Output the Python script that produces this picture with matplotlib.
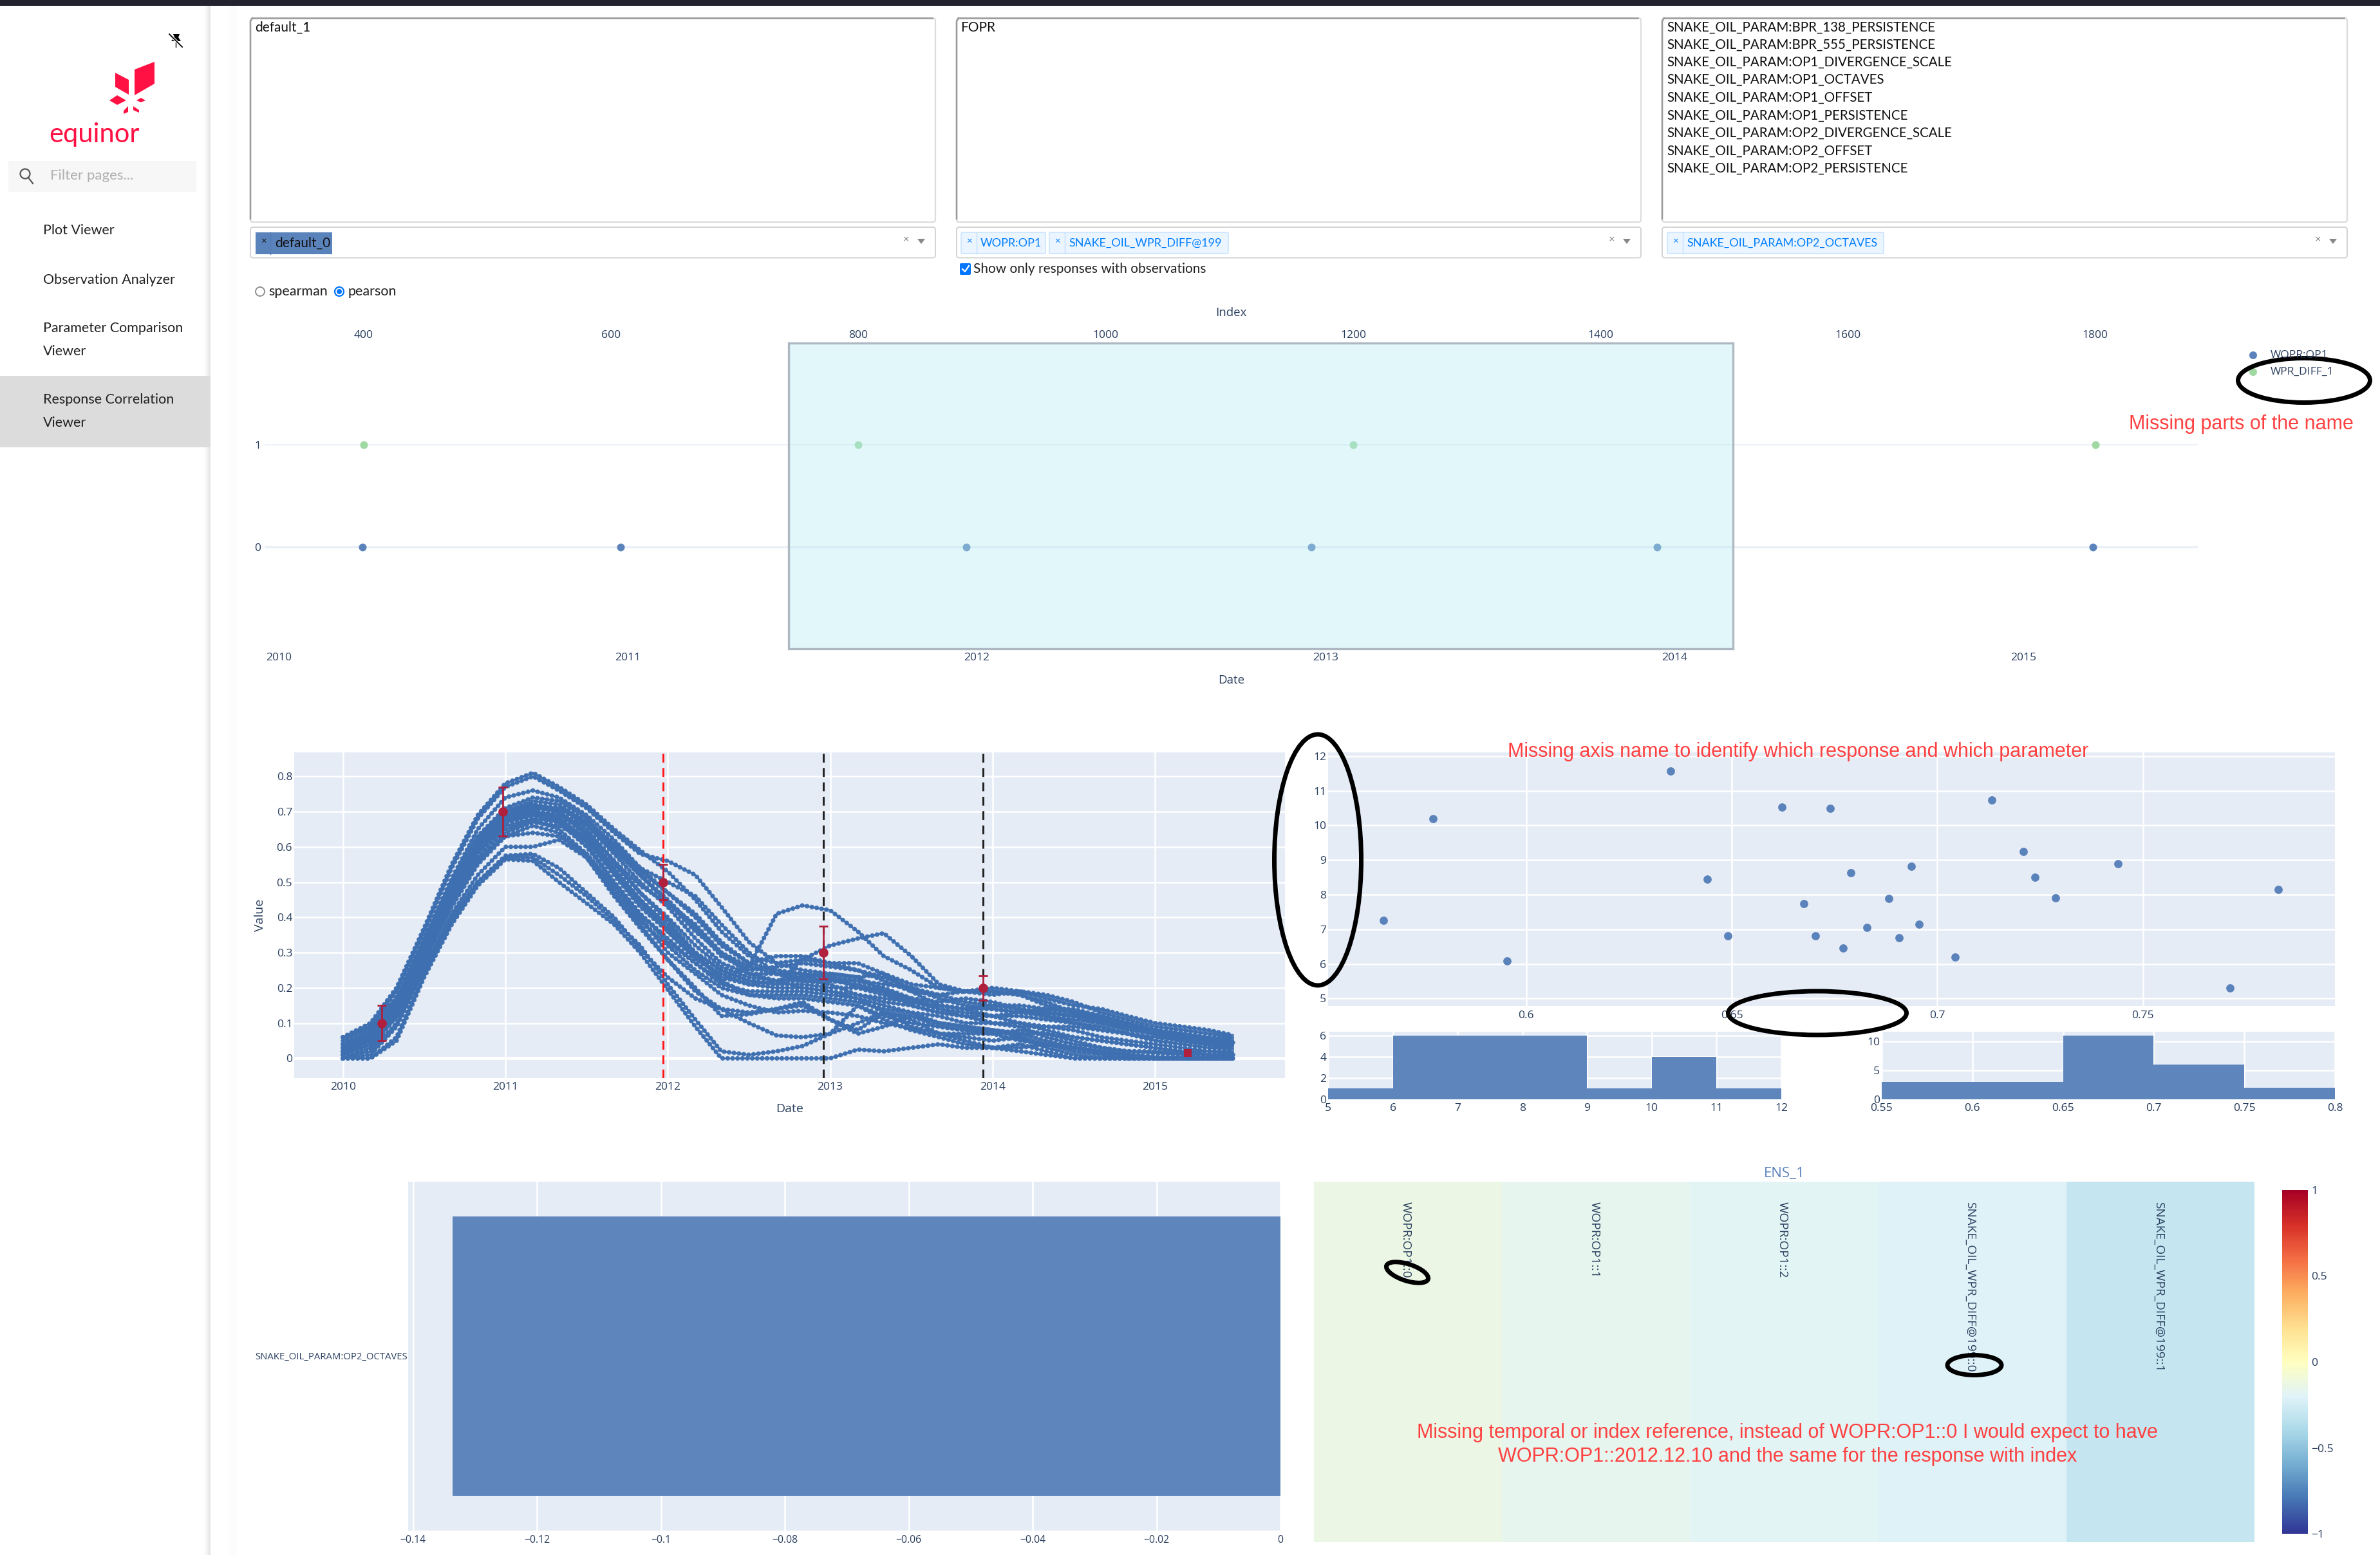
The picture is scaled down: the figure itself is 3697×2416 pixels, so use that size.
import numpy as np
import matplotlib
matplotlib.use('Agg')
import matplotlib.pyplot as plt
from matplotlib.colors import LinearSegmentedColormap
from matplotlib.patches import Rectangle, Ellipse, Polygon, Circle, FancyBboxPatch

W, H = 3698, 2416
plt.rcParams['font.family'] = ['Open Sans', 'DejaVu Sans']

# menu and selector texts
menu_items = ['Plot Viewer', 'Observation Analyzer', 'Parameter Comparison\nViewer', 'Response Correlation\nViewer']
menu_y = [358, 435, 528, 639]
param_list = ['SNAKE_OIL_PARAM:BPR_138_PERSISTENCE', 'SNAKE_OIL_PARAM:BPR_555_PERSISTENCE',
              'SNAKE_OIL_PARAM:OP1_DIVERGENCE_SCALE', 'SNAKE_OIL_PARAM:OP1_OCTAVES',
              'SNAKE_OIL_PARAM:OP1_OFFSET', 'SNAKE_OIL_PARAM:OP1_PERSISTENCE',
              'SNAKE_OIL_PARAM:OP2_DIVERGENCE_SCALE', 'SNAKE_OIL_PARAM:OP2_OFFSET',
              'SNAKE_OIL_PARAM:OP2_PERSISTENCE']

# observation overview (top chart)
index_ticks = [400, 600, 800, 1000, 1200, 1400, 1600, 1800]
year_ticks = [2010, 2011, 2012, 2013, 2014, 2015]
wopr_dates = [2010.24, 2010.98, 2011.97, 2012.96, 2013.95, 2015.2]
wpr_index = [400, 800, 1200, 1800]

# time series
dates = [2010.0, 2010.17, 2010.33, 2010.5, 2010.67, 2010.83, 2011.0, 2011.17, 2011.33, 2011.5, 2011.67, 2011.83,
         2012.0, 2012.17, 2012.33, 2012.5, 2012.67, 2012.83, 2013.0, 2013.17, 2013.33, 2013.5, 2013.67, 2013.83,
         2014.0, 2014.17, 2014.33, 2014.5, 2014.67, 2014.83, 2015.0, 2015.17, 2015.33, 2015.48]
real_01 = [.06,.10,.20,.37,.55,.69,.78,.81,.77,.72,.65,.59,.53,.45,.36,.29,.27,.28,.27,.25,.22,.19,.18,.19,.20,.19,.17,.15,.14,.12,.10,.09,.08,.066]
real_02 = [.05,.09,.19,.36,.54,.68,.77,.80,.76,.71,.64,.58,.56,.52,.43,.33,.27,.25,.24,.23,.24,.21,.20,.19,.18,.19,.18,.16,.13,.11,.09,.08,.07,.06]
real_03 = [.04,.08,.17,.34,.51,.65,.74,.76,.74,.69,.62,.54,.50,.46,.38,.30,.24,.22,.22,.21,.19,.17,.16,.17,.16,.14,.13,.12,.11,.09,.08,.07,.06,.055]
real_04 = [.03,.07,.16,.33,.50,.63,.71,.74,.73,.68,.60,.53,.47,.40,.32,.27,.29,.29,.27,.27,.24,.19,.15,.14,.15,.14,.12,.11,.10,.09,.07,.06,.05,.045]
real_05 = [.03,.07,.16,.32,.49,.62,.70,.73,.72,.67,.59,.52,.45,.37,.29,.25,.26,.27,.26,.25,.23,.20,.17,.15,.14,.13,.14,.13,.11,.09,.07,.06,.05,.045]
real_06 = [.02,.06,.15,.31,.48,.61,.69,.72,.71,.66,.58,.50,.43,.34,.27,.24,.24,.24,.23,.22,.20,.17,.14,.13,.12,.12,.11,.10,.09,.07,.06,.05,.04,.037]
real_07 = [.02,.06,.15,.31,.47,.60,.68,.71,.70,.65,.56,.47,.40,.32,.26,.23,.22,.23,.24,.23,.19,.15,.13,.12,.12,.13,.12,.10,.08,.07,.05,.04,.03,.03]
real_08 = [.02,.05,.14,.30,.47,.60,.68,.70,.69,.64,.54,.45,.38,.30,.25,.22,.21,.21,.20,.20,.18,.16,.15,.14,.12,.10,.09,.09,.08,.07,.05,.04,.03,.026]
real_09 = [.01,.05,.14,.30,.46,.59,.67,.69,.68,.62,.52,.43,.36,.29,.23,.21,.22,.22,.21,.18,.16,.15,.13,.12,.10,.09,.09,.08,.06,.05,.04,.03,.02,.02]
real_10 = [.01,.04,.13,.29,.45,.58,.66,.68,.67,.61,.50,.41,.34,.27,.21,.19,.19,.19,.18,.17,.15,.13,.12,.10,.10,.10,.08,.06,.05,.04,.03,.02,.02,.015]
real_11 = [.01,.04,.13,.29,.45,.57,.65,.675,.65,.58,.48,.39,.32,.25,.20,.18,.18,.18,.17,.16,.14,.13,.10,.09,.08,.07,.07,.06,.05,.04,.03,.02,.01,.01]
real_12 = [.02,.05,.14,.30,.47,.59,.67,.69,.67,.60,.50,.41,.33,.27,.22,.26,.41,.434,.42,.36,.29,.25,.20,.19,.19,.18,.16,.13,.11,.09,.07,.06,.05,.045]
real_13 = [.02,.06,.15,.31,.48,.61,.68,.72,.70,.63,.53,.44,.37,.30,.25,.22,.21,.28,.32,.34,.355,.29,.21,.19,.19,.18,.15,.13,.12,.10,.08,.07,.055,.05]
real_14 = [.03,.07,.16,.32,.49,.61,.68,.70,.69,.66,.60,.52,.44,.36,.30,.26,.24,.23,.22,.22,.21,.20,.18,.16,.15,.15,.14,.14,.12,.10,.08,.06,.05,.04]
real_15 = [.01,.04,.12,.28,.44,.56,.64,.67,.66,.62,.55,.47,.39,.30,.22,.18,.17,.17,.16,.15,.12,.10,.09,.08,.07,.05,.04,.03,.02,.01,.005,0,0,0]
real_16 = [0,.03,.12,.28,.43,.55,.63,.66,.64,.57,.46,.37,.28,.19,.14,.13,.14,.15,.11,.07,.09,.12,.10,.09,.08,.07,.05,.03,.015,.01,0,0,0,0]
real_17 = [.04,.08,.17,.33,.49,.62,.70,.72,.70,.64,.56,.49,.44,.38,.30,.24,.22,.20,.19,.18,.17,.16,.14,.12,.10,.09,.06,.04,.03,.02,.02,.015,.01,.01]
real_18 = [.06,.09,.17,.33,.50,.62,.69,.71,.71,.67,.61,.54,.47,.41,.33,.27,.25,.24,.23,.20,.19,.16,.15,.14,.14,.13,.13,.12,.10,.08,.07,.05,.04,.035]
real_19 = [.01,.05,.14,.30,.46,.59,.67,.70,.68,.62,.53,.45,.36,.28,.24,.21,.20,.20,.19,.17,.13,.11,.07,.05,.03,.04,.02,0,0,0,0,0,0,0]
real_20 = [0,.03,.12,.28,.44,.56,.63,.64,.63,.58,.49,.40,.30,.24,.18,.15,.13,.135,.13,.12,.10,.085,.07,.07,.07,.08,.07,.05,.03,.02,.015,.01,0,0]
real_21 = [0,.02,.10,.26,.41,.52,.60,.60,.62,.57,.47,.38,.28,.20,.12,.125,.14,.16,.11,.08,.13,.12,.09,.08,.08,.06,.03,.01,0,0,0,0,0,0]
real_22 = [0,.01,.09,.25,.40,.50,.575,.58,.54,.47,.40,.31,.23,.17,.14,.10,.065,.06,.07,.10,.13,.09,.07,.06,.05,.06,.04,.03,.02,.01,0,0,0,0]
real_23 = [0,0,.05,.23,.38,.49,.565,.56,.50,.44,.38,.30,.195,.09,0,0,0,0,0,.025,.02,.03,.04,.03,.03,.03,.04,.02,.01,0,0,0,0,0]
real_24 = [0,0,.06,.24,.39,.50,.57,.57,.52,.46,.39,.32,.21,.11,.02,.01,.02,.035,.07,.15,.11,.08,.06,.04,.03,.02,.01,0,0,0,0,0,0,0]
realizations = [real_01, real_02, real_03, real_04, real_05, real_06, real_07, real_08, real_09, real_10, real_11, real_12,
                real_13, real_14, real_15, real_16, real_17, real_18, real_19, real_20, real_21, real_22, real_23, real_24]
obs_dates = [2010.24, 2010.985, 2011.97, 2012.96, 2013.94]
obs_values = [.1, .7, .5, .3, .2]
obs_errors = [.05, .07, .05, .075, .035]
last_obs_date, last_obs_value = 2015.2, .015
red_line = 2011.97
black_lines = [2012.96, 2013.94]

# scatter and histograms
resp_x = [.5652,.5774,.5953,.6351,.6441,.649,.6622,.6675,.6704,.6739,.677,.6789,.6829,.6882,.6907,.6936,.6956,.7043,.7132,.7209,.7238,.7287,.744,.7712,.7829]
param_y = [7.25,10.19,6.09,11.57,8.44,6.81,10.52,7.74,6.81,10.49,6.46,8.64,7.06,7.88,6.75,8.82,7.15,6.19,10.74,9.24,8.50,7.91,8.89,5.30,8.14]
hist1_edges = [5, 6, 7, 8, 9, 10, 11, 12]
hist1_counts = [1, 6, 6, 6, 1, 4, 1]
hist2_edges = [.55, .6, .65, .7, .75, .8]
hist2_counts = [3, 3, 11, 6, 2]

# correlation bar and heatmap
bar_label = 'SNAKE_OIL_PARAM:OP2_OCTAVES'
bar_value = -.1336
heat_labels = ['WOPR:OP1::0', 'WOPR:OP1::1', 'WOPR:OP1::2', 'SNAKE_OIL_WPR_DIFF@199::0', 'SNAKE_OIL_WPR_DIFF@199::1']
heat_values = [-.13, -.16, -.18, -.21, -.30]

BG = '#e5ecf6'
TICK = '#2a3f5f'
MARK = '#5b83bb'
NOTE = '#ff4040'
RED = '#b01f3c'
SANS = ['Liberation Sans', 'DejaVu Sans']
UI = ['Lato', 'DejaVu Sans']

fig = plt.figure(figsize=(W / 100, H / 100), dpi=100, facecolor='white')


def px_axes(l, t, r, b, **kw):
    return fig.add_axes([l / W, 1 - b / H, (r - l) / W, (b - t) / H], **kw)


def plotly_style(ax, grid=True, size=12.6):
    ax.set_facecolor(BG)
    for s in ax.spines.values():
        s.set_visible(False)
    ax.tick_params(length=0, labelsize=size, labelcolor=TICK, pad=5)
    ax.tick_params(axis='y', pad=2)
    if grid:
        ax.grid(color='white', lw=1.8)
        ax.set_axisbelow(True)


# page chrome, pixel coordinates
bg = fig.add_axes([0, 0, 1, 1], zorder=0)
bg.axis('off')
bg.add_patch(Rectangle((0, 0), W, 9, color='#23232f', lw=0))
# sidebar shadows
bg.imshow([[1, .985, .95, .9]], extent=(313, 327, H, 9), cmap='gray', vmin=0, vmax=1, aspect='auto', interpolation='bilinear')
bg.imshow([[1, 1, .985]], extent=(330, 368, H, 9), cmap='gray', vmin=0, vmax=1, aspect='auto', interpolation='bilinear')
bg.set_xlim(0, W)
bg.set_ylim(H, 0)
bg.add_patch(Rectangle((0, 584), 327, 111, color='#dcdcdc', lw=0))
bg.add_patch(Rectangle((13, 250), 292, 48, color='#f7f7f7', lw=0))

logo_parts = [[(209, 108), (240, 96), (240, 130), (209, 148)], [(179, 113), (200, 124), (200, 147), (179, 135)],
              [(182, 148), (196, 156), (182, 163), (170, 156)], [(219, 152), (226, 156), (219, 159), (212, 156)],
              [(192, 172), (199, 165), (199, 174), (192, 177)], [(207, 165), (216, 171), (216, 175), (207, 171)]]
for part in logo_parts:
    bg.add_patch(Polygon(part, color='#ff1243', lw=0))
bg.text(147, 209, 'equinor', color='#ff1243', fontsize=30, family=UI, ha='center', va='center')
# pin icon
bg.add_patch(Polygon([(269, 53), (279, 53), (277, 58), (281, 64), (266, 64), (271, 58)], color='black', lw=0))
bg.plot([273, 273], [64, 73], color='black', lw=1)
bg.plot([263, 283], [53, 73], color='white', lw=3)
bg.plot([263, 283], [53, 73], color='black', lw=1.3)
bg.add_patch(Circle((39, 270), 7.5, fill=False, ec='#555555', lw=1.6))
bg.plot([44, 51], [276, 285], color='#555555', lw=1.6)
bg.text(78, 273, 'Filter pages...', color='#b0b0b0', fontsize=16, family=UI, va='center')
for label, y in zip(menu_items, menu_y):
    bg.text(67, y, label, color='#222222', fontsize=15.5, family=UI, va='center', linespacing=2.05)

# selector boxes
boxes = [(389, 1453), (1486, 2549), (2582, 3646)]
for l, r in boxes:
    bg.add_patch(FancyBboxPatch((l + 4, 32), r - l - 8, 309, boxstyle='round,pad=4', fc='white', ec='#dcdcdc', lw=1.6))
    bg.plot([l, l, l + 3], [340, 33, 28], color='#999999', lw=1.8)
    bg.plot([l + 3, r - 5], [28, 28], color='#999999', lw=1.8)
    bg.add_patch(FancyBboxPatch((l + 4, 357), r - l - 8, 39.5, boxstyle='round,pad=4', fc='white', ec='#d0d0d0', lw=1.3))
    bg.text(r - 45, 373, '×', color='#888888', fontsize=12, ha='center', va='center')
    bg.add_patch(Polygon([(r - 28, 371), (r - 16, 371), (r - 22, 379)], color='#888888', lw=0))
bg.text(396, 43, 'default_1', color='#111111', fontsize=15, family=UI, va='center')
bg.text(1492, 43, 'FOPR', color='#111111', fontsize=15, family=UI, va='center')
for i, label in enumerate(param_list):
    bg.text(2589, [43, 70, 97, 124, 152, 180, 207, 235, 262][i], label, color='#111111', fontsize=14.8, family=UI, va='center')

bg.add_patch(Rectangle((397, 361), 119, 34, color=MARK, lw=0))
bg.plot([420, 420], [361, 395], color='#527ab3', lw=1)
bg.text(409, 375, '×', color='#111111', fontsize=11, ha='center', va='center')
bg.text(427, 378, 'default_0', color='#111111', fontsize=15, family=UI, va='center')
chips = [(1493, 1624, 'WOPR:OP1'), (1630, 1908, 'SNAKE_OIL_WPR_DIFF@199'), (2590, 2926, 'SNAKE_OIL_PARAM:OP2_OCTAVES')]
for l, r, label in chips:
    bg.add_patch(FancyBboxPatch((l + 2, 363), r - l - 4, 29, boxstyle='round,pad=2', fc='#ebf5ff', ec='#c2e0ff', lw=1))
    bg.plot([l + 24, l + 24], [361, 394], color='#c2e0ff', lw=1)
    bg.text(l + 12, 375, '×', color='#007eff', fontsize=11, ha='center', va='center')
    bg.text(l + 30, 378, label, color='#007eff', fontsize=13, family=UI, va='center')

bg.add_patch(FancyBboxPatch((1493, 411), 13, 14, boxstyle='round,pad=2', fc='#0075ff', ec='#0075ff', lw=0))
bg.plot([1495, 1499, 1505], [418, 422, 413], color='white', lw=1.6)
bg.text(1512, 418, 'Show only responses with observations', color='#222222', fontsize=15, family=UI, va='center')
bg.add_patch(Circle((404, 453), 7, fc='white', ec='#888888', lw=1.3))
bg.text(417, 453, 'spearman', color='#222222', fontsize=15.5, family=UI, va='center')
bg.add_patch(Circle((527, 453), 7, fc='white', ec='#0075ff', lw=1.6))
bg.add_patch(Circle((527, 453), 4, color='#0075ff', lw=0))
bg.text(541, 453, 'pearson', color='#222222', fontsize=15.5, family=UI, va='center')

# top overview chart, one y axis with an index scale above and a date scale below
ax_top = px_axes(411, 533, 3414, 1008)
ax_top.patch.set_visible(False)
for s in ax_top.spines.values():
    s.set_visible(False)
ax_top.set_xlim(319.9, 1882.8)
ax_top.set_ylim(-.994, 1.994)
ax_top.set_yticks([0, 1], labels=['0', '1'])
ax_top.axhline(1, color='#ebf0f8', lw=1.3, zorder=1)
ax_top.axhline(0, color='#ebf0f8', lw=2.6, zorder=1)
ax_top.scatter(wpr_index, [1] * len(wpr_index), s=75, color='#9fd8a0', lw=0, zorder=2)

ax_date = ax_top.twiny()
for s in ax_date.spines.values():
    s.set_visible(False)
ax_date.set_xlim(2009.96, 2015.5)
ax_date.xaxis.set_ticks_position('bottom')
ax_date.xaxis.set_label_position('bottom')
ax_date.set_xticks(year_ticks, labels=[str(y) for y in year_ticks])
ax_date.tick_params(length=0, labelsize=12.6, labelcolor=TICK, pad=4)
ax_date.set_xlabel('Date', color=TICK, fontsize=13.5, labelpad=13)
ax_date.scatter(wopr_dates, [0] * len(wopr_dates), s=75, color=MARK, lw=0, zorder=2)

# twiny moves the first axis ticks to the bottom, so set them here
ax_top.xaxis.set_ticks_position('top')
ax_top.xaxis.set_label_position('top')
ax_top.set_xticks(index_ticks, labels=[str(v) for v in index_ticks])
ax_top.tick_params(length=0, labelsize=12.6, labelcolor=TICK, pad=4)
ax_top.tick_params(axis='x', pad=3)
ax_top.set_xlabel('Index', color=TICK, fontsize=13.5, labelpad=16)

# time series
ax_ts = px_axes(457, 1169, 1996, 1674.5)
plotly_style(ax_ts)
ax_ts.set_xlim(2009.70, 2015.80)
ax_ts.set_ylim(-.055, .868)
ax_ts.set_xticks(year_ticks, labels=[str(y) for y in year_ticks])
ax_ts.set_yticks([0, .1, .2, .3, .4, .5, .6, .7, .8], labels=['0', '0.1', '0.2', '0.3', '0.4', '0.5', '0.6', '0.7', '0.8'])
ax_ts.axhline(0, color='white', lw=3.5, zorder=1)
ax_ts.set_xlabel('Date', color=TICK, fontsize=14, labelpad=12)
ax_ts.set_ylabel('Value', color=TICK, fontsize=14, labelpad=12)
for values in realizations:
    ax_ts.plot(dates, values, color='#3e6fb0', lw=2.2, alpha=.95, zorder=2, solid_joinstyle='round')
    ax_ts.plot(dates, values, color='#3e6fb0', lw=5.2, ls=(0, (.01, 1.05)), dash_capstyle='round', alpha=.95, zorder=2)
ax_ts.axvline(red_line, color='#ff1a1a', lw=2.2, ls=(0, (4.5, 2.8)), zorder=3)
for d in black_lines:
    ax_ts.axvline(d, color='#222222', lw=2.2, ls=(0, (4.5, 2.8)), zorder=3)
ax_ts.errorbar(obs_dates, obs_values, yerr=obs_errors, fmt='o', color=RED, ms=9.5, elinewidth=2, capsize=5, capthick=2, zorder=4)
ax_ts.scatter([last_obs_date], [last_obs_value], marker='s', s=85, color=RED, lw=0, zorder=4)

# scatter
ax_sc = px_axes(2063, 1169, 3627, 1563)
plotly_style(ax_sc)
ax_sc.set_xlim(.5518, .7967)
ax_sc.set_ylim(4.786, 12.106)
ax_sc.set_xticks([.6, .65, .7, .75], labels=['0.6', '0.65', '0.7', '0.75'])
ax_sc.set_yticks(range(5, 13), labels=[str(v) for v in range(5, 13)])
ax_sc.scatter(resp_x, param_y, s=85, color=MARK, lw=0, zorder=3)

# histograms
ax_h1 = px_axes(2063, 1603, 2767, 1707.5)
plotly_style(ax_h1)
ax_h1.set_xlim(5, 12)
ax_h1.set_ylim(0, 6.37)
ax_h1.bar(hist1_edges[:-1], hist1_counts, width=1, align='edge', color='#5a82ba', alpha=.97, lw=0, zorder=3)
ax_h1.set_xticks(hist1_edges, labels=[str(v) for v in hist1_edges])
ax_h1.set_yticks([0, 2, 4, 6], labels=['0', '2', '4', '6'])

ax_h2 = px_axes(2923, 1603, 3627, 1707.5)
plotly_style(ax_h2)
ax_h2.set_xlim(.55, .8)
ax_h2.set_ylim(0, 11.68)
ax_h2.bar(hist2_edges[:-1], hist2_counts, width=.05, align='edge', color='#5a82ba', alpha=.97, lw=0, zorder=3)
ax_h2.set_xticks(hist2_edges, labels=['0.55', '0.6', '0.65', '0.7', '0.75', '0.8'])
ax_h2.set_yticks([0, 5, 10], labels=['0', '5', '10'])

# correlation bar
ax_bar = px_axes(634, 1836, 1989, 2378)
plotly_style(ax_bar, size=11.3)
ax_bar.barh([0], [bar_value], height=.8, color='#5a82ba', alpha=.97, lw=0, zorder=3)
ax_bar.set_xlim(-.1408, 0)
ax_bar.set_ylim(-.5, .5)
ax_bar.set_xticks([-.14, -.12, -.1, -.08, -.06, -.04, -.02, 0],
                  labels=['\u22120.14', '\u22120.12', '\u22120.1', '\u22120.08', '\u22120.06', '\u22120.04', '\u22120.02', '0'])
ax_bar.set_yticks([0], labels=[bar_label])
ax_bar.tick_params(axis='y', pad=1, labelsize=10.7)
ax_bar.grid(axis='y', visible=False)

# heatmap
rdylbu = ['#313695', '#4575b4', '#74add1', '#abd9e9', '#e0f3f8', '#ffffbf', '#fee090', '#fdae61', '#f46d43', '#d73027', '#a50026']
cmap = LinearSegmentedColormap.from_list('rdylbu', rdylbu)
ax_hm = px_axes(2041, 1836, 3502, 2396)
plotly_style(ax_hm, grid=False)
mesh = ax_hm.pcolormesh(np.arange(6), [0, 1], [heat_values], cmap=cmap, vmin=-1, vmax=1)
ax_hm.set_ylim(1, 0)
ax_hm.set_xticks([])
ax_hm.set_yticks([])
for i, label in enumerate(heat_labels):
    ax_hm.text(i + .49, .055, label, rotation=-90, ha='center', va='top', color=TICK, fontsize=13.7)
ax_hm.set_title('ENS_1', color=MARK, fontsize=16, pad=5)

cax = px_axes(3545, 1849, 3585, 2383)
cb = fig.colorbar(mesh, cax=cax)
cb.outline.set_visible(False)
cb.set_ticks([-1, -.5, 0, .5, 1], labels=['\u22121', '\u22120.5', '0', '0.5', '1'])
cb.ax.tick_params(length=0, labelsize=12.6, labelcolor=TICK, pad=4)

# hand-drawn notes on top of everything
fg = fig.add_axes([0, 0, 1, 1], zorder=10)
fg.set_xlim(0, W)
fg.set_ylim(H, 0)
fg.axis('off')
fg.add_patch(Rectangle((1225, 533), 1467, 475, fc='#b4ebf2', ec='none', alpha=.4))
fg.add_patch(Rectangle((1225, 533), 1467, 475, fc='none', ec='#aeb8c2', lw=2.4))
fg.scatter([3500, 3500], [552, 578], s=75, color=[MARK, '#9fd8a0'], lw=0)
fg.text(3527, 552, 'WOPR:OP1', color=TICK, fontsize=12.6, va='center')
fg.text(3527, 578, 'WPR_DIFF_1', color=TICK, fontsize=12.6, va='center')
ovals = [(3579, 591, 205, 69, 0), (2047, 1336, 135, 390, 0), (2823, 1574, 277, 68, 0), (2186, 1977, 68, 26, 18), (3067, 2121, 84, 31, 0)]
for x, y, w, h, ang in ovals:
    fg.add_patch(Ellipse((x, y), w, h, angle=ang, fill=False, ec='black', lw=5))
notes = [(3481, 659, 'Missing parts of the name'), (2793, 1168, 'Missing axis name to identify which response and which parameter'),
         (2776, 2226, 'Missing temporal or index reference, instead of WOPR:OP1::0 I would expect to have'),
         (2777, 2263, 'WOPR:OP1::2012.12.10 and the same for the response with index')]
for x, y, label in notes:
    fg.text(x, y, label, color=NOTE, fontsize=22, family=SANS, ha='center', va='center')

fig.savefig('out.png', dpi=100)
